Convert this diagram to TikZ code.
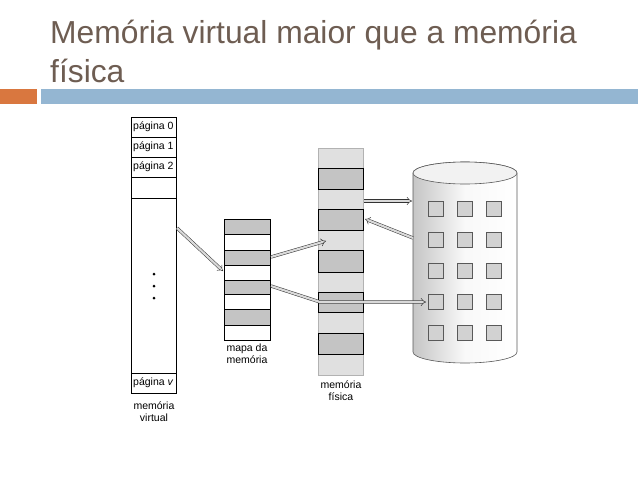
\documentclass[tikz,border=0pt]{standalone}
\usepackage{fontspec}
\setmainfont{Liberation Sans}
\usetikzlibrary{arrows.meta}
\definecolor{titlec}{HTML}{6E5D52}
\definecolor{orangec}{HTML}{D9773F}
\definecolor{bluec}{HTML}{94B6D2}
\definecolor{physbg}{HTML}{E0E0E0}
\definecolor{blockc}{HTML}{C4C4C4}
\tikzset{
  lbl/.style={font=\fontsize{10.5}{12}\selectfont, inner sep=0pt},
  cell/.style={draw=black, line width=0.6pt},
  dbl/.style={draw=black!80, double=gray!30, double distance=2.2pt, line width=0.5pt, -{Implies}},
  sq/.style={draw=gray!70!black, fill=gray!35, line width=0.6pt},
}
\begin{document}
\begin{tikzpicture}[x=1pt,y=-1pt]
\useasboundingbox (0,0) rectangle (638,479);
\fill[white] (0,0) rectangle (638,479);
% title
\node[anchor=base west, text=titlec, font=\fontsize{31.8}{36}\selectfont, inner sep=0pt] (t1) at (50,43) {Memória virtual maior que a memória};
\node[anchor=base west, text=titlec, font=\fontsize{31.8}{36}\selectfont, inner sep=0pt] (t2) at (50,82) {física};
\fill[orangec] (0,89) rectangle (37,104);
\fill[bluec] (41,89) rectangle (638,104);
% virtual memory
\draw[cell] (131,117) rectangle (176,393);
\foreach \y in {137,157,177,198,373} \draw[cell] (131,\y) -- (176,\y);
\node[lbl, anchor=west] (p0) at (133,127) {página 0};
\node[lbl, anchor=west] (p1) at (133,147) {página 1};
\node[lbl, anchor=west] (p2) at (133,167) {página 2};
\node[lbl, anchor=west] (pv) at (133,383) {página \textit{v}};
\foreach \y in {274,286,298} \fill (154,\y) circle (1.5pt);
\node[lbl, align=center] (vmlab) at (154,412) {memória\\virtual};
% memory map
\foreach \a/\b in {219/234,250/265,280/294,309/325} \fill[blockc] (224,\a) rectangle (270,\b);
\draw[cell] (224,219) rectangle (270,340);
\foreach \y in {234,250,265,280,294,309,325} \draw[cell] (224,\y) -- (270,\y);
\node[lbl, align=center] (maplab) at (247,354) {mapa da\\memória};
% physical memory
\draw[draw=gray!60, fill=physbg, line width=0.6pt] (318,148) rectangle (363,375);
\foreach \a/\b in {168/189,209/230,250/272,292/312,333/354} \draw[cell, fill=blockc] (318,\a) rectangle (363,\b);
\node[lbl, align=center] (pmlab) at (341,391) {memória\\física};
% disk
\shade[left color=gray!45, right color=white, middle color=gray!5, draw=gray!70!black, line width=0.6pt]
  (413,173) -- (413,352) arc[start angle=180, end angle=360, x radius=52pt, y radius=11pt] -- (517,173) arc[start angle=0, end angle=180, x radius=52pt, y radius=11pt] -- cycle;
\draw[gray!70!black, line width=0.6pt, fill=gray!10] (465,173) ellipse[x radius=52pt, y radius=11pt];
\foreach \x in {428,457,486}
  \foreach \y in {201,232,263,294,325}
    \draw[sq] (\x,\y) rectangle ++(15.5,15.5);
% arrows
\coordinate (a1s) at (177,228); \coordinate (a1e) at (223,271);
\draw[dbl] (a1s) -- (a1e);
\coordinate (a2s) at (271,257); \coordinate (a2e) at (326,241);
\draw[dbl] (a2s) -- (a2e);
\coordinate (a3s) at (271,286); \coordinate (a3m) at (320,302); \coordinate (a3e) at (426,302);
\draw[dbl] (a3s) -- (a3m) -- (a3e);
\coordinate (a4s) at (364,201); \coordinate (a4e) at (412,201);
\draw[dbl] (a4s) -- (a4e);
\coordinate (a5s) at (413,238); \coordinate (a5e) at (365,219);
\draw[dbl] (a5s) -- (a5e);
\end{tikzpicture}
\end{document}
